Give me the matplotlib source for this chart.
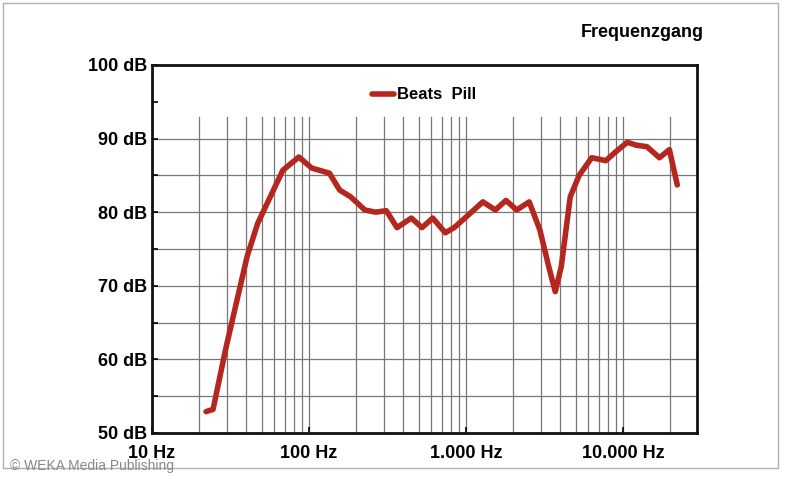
import matplotlib.pyplot as plt
from matplotlib.patches import Rectangle

freq = [22.1, 24.5, 29.4, 34.5, 40.4, 47.2, 58.2, 68.2, 86.3, 104, 135, 157, 184, 227, 266, 311,
        364, 449, 525, 615, 739, 842, 986, 1282, 1540, 1800, 2106, 2532, 2960, 3373, 3710,
        4052, 4624, 5270, 6330, 7800, 8890, 10680, 12170, 14250, 17110, 19800, 22230]
pegel = [52.9, 53.2, 61.3, 67.7, 74, 78.5, 82.6, 85.7, 87.5, 86, 85.3, 83, 82.1, 80.3, 80, 80.2,
         77.9, 79.2, 77.9, 79.2, 77.2, 77.9, 79.2, 81.4, 80.3, 81.6, 80.3, 81.4, 77.6, 72.6, 69.2,
         72.6, 82.1, 85, 87.4, 87, 88.1, 89.5, 89.1, 88.9, 87.4, 88.5, 83.7]
y_labels = ['50 dB', '', '60 dB', '', '70 dB', '', '80 dB', '', '90 dB', '', '100 dB']
x_ticks = [10, 100, 1000, 10000]
x_labels = ['10 Hz', '100 Hz', '1.000 Hz', '10.000 Hz']

fig = plt.figure(figsize=(8, 4.8), dpi=100)
fig.patches.append(Rectangle((0.004, 0.025), 0.968, 0.968, transform=fig.transFigure,
                             fill=False, edgecolor='#b0b0b0', lw=1))
ax = fig.add_axes([0.19, 0.098, 0.681, 0.7666])
ax.set_xscale('log')
ax.set_xlim(10, 29600)
ax.set_ylim(50, 100)

# gitter
for d in [10, 100, 1000, 10000]:
    for m in range(1, 10):
        f = d * m
        if 10 < f <= 20000:
            ax.plot([f, f], [50, 93], color='#777777', lw=0.9, zorder=1)
for v in range(55, 95, 5):
    ax.axhline(v, color='#777777', lw=0.9, zorder=1)

ax.plot(freq, pegel, color='#b5261e', lw=4, solid_capstyle='round', solid_joinstyle='round',
        label='Beats  Pill', zorder=3)

ax.set_yticks(range(50, 101, 5))
ax.set_yticklabels(y_labels)
ax.set_xticks(x_ticks)
ax.set_xticklabels(x_labels)
ax.xaxis.set_minor_locator(plt.NullLocator())
ax.tick_params(axis='both', labelsize=13, length=4, direction='in', width=1.2)
ax.tick_params(axis='x', pad=9)
for t in ax.get_xticklabels() + ax.get_yticklabels():
    t.set_fontweight('bold')
    t.set_family('Liberation Sans')
for s in ax.spines.values():
    s.set_linewidth(2)
    s.set_color('#111111')

leg = ax.legend(loc='upper center', bbox_to_anchor=(0.5, 0.98), frameon=False,
                prop={'family': 'Liberation Sans', 'weight': 'bold', 'size': 12},
                handlelength=1.3, handletextpad=0.2)
fig.text(0.88, 0.933, 'Frequenzgang', ha='right', va='center', fontsize=13,
         fontweight='bold', family='Liberation Sans')
fig.text(0.012, 0.03, '© WEKA Media Publishing', ha='left', va='center', fontsize=10,
         color='#888888', family='Liberation Sans')

fig.savefig('out.png', dpi=100)
